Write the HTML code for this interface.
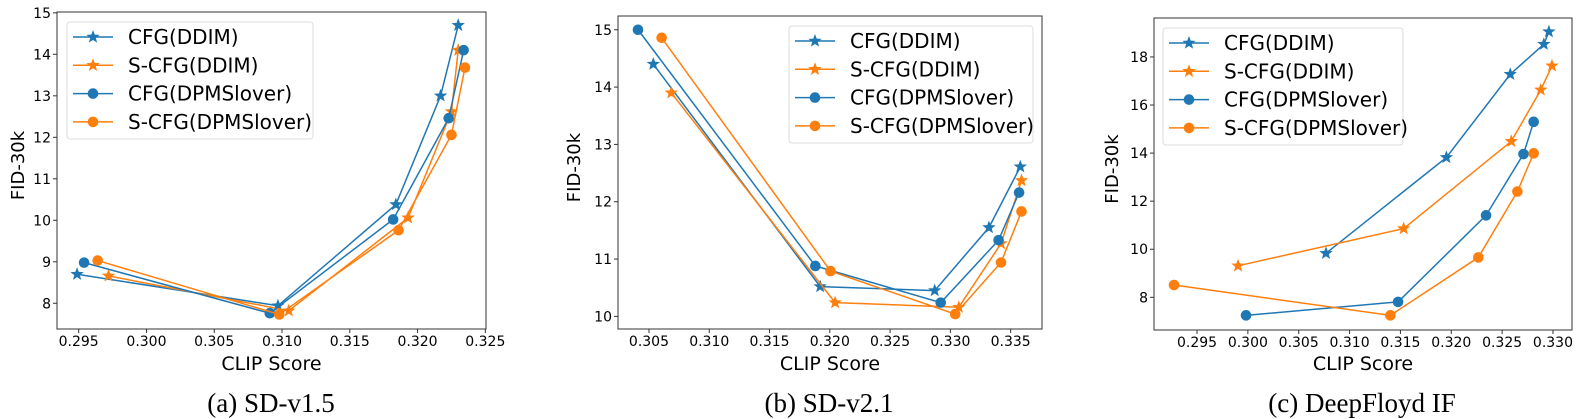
<!DOCTYPE html>
<html><head><meta charset="utf-8">
<style>
html,body{margin:0;padding:0;background:#fff;}
svg{display:block;}
text{font-family:"DejaVu Sans","Liberation Sans",sans-serif;fill:#000;}
.cap{font-family:"Liberation Serif",serif;}
</style></head>
<body>
<svg id="fig" width="1595" height="419" viewBox="0 0 1595 419" xmlns="http://www.w3.org/2000/svg"></svg>
<script>
const seriesNames = ["CFG(DDIM)","S-CFG(DDIM)","CFG(DPMSlover)","S-CFG(DPMSlover)"];
const seriesColors = ["#1f77b4","#ff7f0e","#1f77b4","#ff7f0e"];
const seriesMarkers = ["star","star","circle","circle"];

const aX = [[0.29488,0.3097,0.3184,0.3217,0.3230],[0.2972,0.3105,0.3193,0.3225,0.3230],[0.2954,0.3091,0.3182,0.3223,0.3234],[0.2964,0.3098,0.3186,0.3225,0.3235]];
const aY = [[8.70,7.94,10.38,13.0,14.7],[8.66,7.82,10.06,12.62,14.1],[8.98,7.76,10.02,12.46,14.1],[9.03,7.73,9.76,12.06,13.68]];
const aXTicks = ["0.295","0.300","0.305","0.310","0.315","0.320","0.325"];
const aYTicks = ["8","9","10","11","12","13","14","15"];

const bX = [[0.30536,0.3192,0.3287,0.3332,0.3358],[0.30685,0.32044,0.3307,0.3342,0.3359],[0.30409,0.3188,0.3292,0.3340,0.3357],[0.30605,0.32006,0.3304,0.3342,0.3359]];
const bY = [[14.40,10.52,10.45,11.55,12.61],[13.90,10.24,10.16,11.27,12.37],[15.0,10.88,10.24,11.33,12.16],[14.86,10.79,10.04,10.94,11.83]];
const bXTicks = ["0.305","0.310","0.315","0.320","0.325","0.330","0.335"];
const bYTicks = ["10","11","12","13","14","15"];

const cX = [[0.30768,0.31952,0.3258,0.3291,0.3296],[0.29903,0.31532,0.3259,0.3288,0.3299],[0.29982,0.31477,0.32342,0.3271,0.3281],[0.29274,0.31401,0.32266,0.3265,0.3281]];
const cY = [[9.83,13.82,17.28,18.53,19.05],[9.31,10.86,14.49,16.63,17.63],[7.25,7.81,11.41,13.96,15.30],[8.51,7.25,9.66,12.40,13.99]];
const cXTicks = ["0.295","0.300","0.305","0.310","0.315","0.320","0.325","0.330"];
const cYTicks = ["8","10","12","14","16","18"];

const NS="http://www.w3.org/2000/svg";
const svg=document.getElementById('fig');
function mk(tag,attrs,parent){const e=document.createElementNS(NS,tag);for(const k in attrs)e.setAttribute(k,attrs[k]);(parent||svg).appendChild(e);return e;}
function starPts(cx,cy,R){const r=R*0.42;let p=[];for(let i=0;i<10;i++){const a=-Math.PI/2+i*Math.PI/5;const rr=i%2?r:R;p.push((cx+rr*Math.cos(a)).toFixed(2)+","+(cy+rr*Math.sin(a)).toFixed(2));}return p.join(" ");}
function marker(g,type,x,y,color){
  if(type==="star"){const m=mk('polygon',{points:starPts(x,y,7),fill:color},g);}
  else{const m=mk('circle',{cx:x,cy:y,r:5.3,fill:color},g);}
}
function panel(cfg){
  const g=mk('g',{});
  
  
  const sx=v=>cfg.L+(v-cfg.x0)/(cfg.x1-cfg.x0)*(cfg.R-cfg.L);
  const sy=v=>cfg.B-(v-cfg.y0)/(cfg.y1-cfg.y0)*(cfg.B-cfg.T);
  const fr=mk('rect',{x:cfg.L,y:cfg.T,width:cfg.R-cfg.L,height:cfg.B-cfg.T,fill:'none',stroke:'#333','stroke-width':1},g);
  
  cfg.xt.forEach(t=>{const x=sx(parseFloat(t));mk('line',{x1:x,x2:x,y1:cfg.B,y2:cfg.B+4,stroke:'#333'},g);
    const tx=mk('text',{x:x,y:cfg.B+17,'font-size':14,'text-anchor':'middle'},g);tx.textContent=t;
    });
  cfg.yt.forEach(t=>{const y=sy(parseFloat(t));mk('line',{x1:cfg.L-4,x2:cfg.L,y1:y,y2:y,stroke:'#333'},g);
    const tx=mk('text',{x:cfg.L-6,y:y+5,'font-size':14,'text-anchor':'end'},g);tx.textContent=t;
    });
  for(let s=0;s<4;s++){
    const pts=cfg.xs[s].map((v,i)=>sx(v).toFixed(2)+","+sy(cfg.ys[s][i]).toFixed(2)).join(" ");
    const pl=mk('polyline',{points:pts,fill:'none',stroke:seriesColors[s],'stroke-width':1.5},g);
    
    cfg.xs[s].forEach((v,i)=>marker(g,seriesMarkers[s],sx(v),sy(cfg.ys[s][i]),seriesColors[s]));
  }
  const lg=mk('g',{},g);
  mk('rect',{x:cfg.lx,y:cfg.ly,width:cfg.lw,height:117,rx:3,fill:'#fff','fill-opacity':0.85,stroke:'#ddd'},lg);
  for(let s=0;s<4;s++){const y=cfg.ly+15+s*28.3;
    const e=mk('g',{},lg);
    mk('line',{x1:cfg.lx+6,x2:cfg.lx+46,y1:y,y2:y,stroke:seriesColors[s],'stroke-width':1.5},e);
    marker(e,seriesMarkers[s],cfg.lx+26,y,seriesColors[s]);
    const t=mk('text',{x:cfg.lx+61,y:y+7,'font-size':20},e);t.textContent=seriesNames[s];}
  const xl=mk('text',{x:(cfg.L+cfg.R)/2,y:370,'font-size':19,'text-anchor':'middle'},g);xl.textContent='CLIP Score';
  
  const yx=cfg.yl, ymid=(cfg.T+cfg.B)/2-5;
  const yl=mk('text',{x:yx,y:ymid,'font-size':18,'text-anchor':'middle',transform:`rotate(-90 ${yx} ${ymid})`},g);yl.textContent='FID-30k';
  
  const cp=mk('text',{x:cfg.cx,y:412,'font-size':27,'text-anchor':'middle',class:'cap'},g);cp.textContent=cfg.cap;
  
}
panel({name:'chart-sd-v1-5',L:57,R:486,T:12,B:329,x0:0.2934,x1:0.32505,y0:7.38,y1:15.02,xs:aX,ys:aY,xt:aXTicks,yt:aYTicks,lx:67,ly:22,lw:246,yl:24,cx:271,cap:'(a) SD-v1.5'});
panel({name:'chart-sd-v2-1',L:618,R:1042,T:16,B:329,x0:0.30243,x1:0.3376,y0:9.78,y1:15.24,xs:bX,ys:bY,xt:bXTicks,yt:bYTicks,lx:789,ly:26,lw:244,yl:580,cx:829,cap:'(b) SD-v2.1'});
panel({name:'chart-deepfloyd-if',L:1154,R:1572,T:18,B:330,x0:0.29077,x1:0.33187,y0:6.64,y1:19.62,xs:cX,ys:cY,xt:cXTicks,yt:cYTicks,lx:1163,ly:28,lw:240,yl:1118,cx:1362,cap:'(c) DeepFloyd IF'});
</script>
</body></html>
